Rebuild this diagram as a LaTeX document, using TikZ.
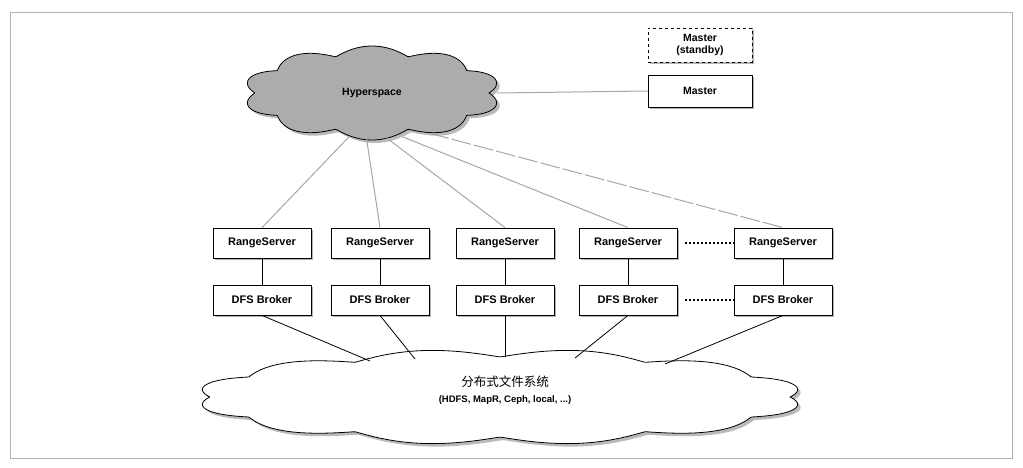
\documentclass[tikz,border=0pt]{standalone}
\usepackage{fontspec}
\setmainfont{Liberation Sans}
\newfontfamily\cjk{Noto Sans CJK SC}
\usetikzlibrary{shapes.geometric,shadows}
\begin{document}
\begin{tikzpicture}[x=1pt,y=-1pt,
  box/.style={draw,thick,fill=white,minimum width=98pt,minimum height=30pt,font=\bfseries\fontsize{11}{12}\selectfont,drop shadow={opacity=0.6,shadow xshift=2pt,shadow yshift=-2pt}},
  link/.style={gray!70,line width=1pt},
  blink/.style={black,line width=0.8pt},
  anchorell/.style={ellipse,inner sep=0pt}]
\useasboundingbox (0,0) rectangle (1023,467);
\draw[gray!60,line width=1pt] (10,12) rectangle (1012,458);
% Hyperspace cloud
\fill[black!45,opacity=0.6] plot[domain=0:360,samples=400,smooth] ({375+(117+12*abs(sin(5*\x)))*cos(\x)},{96+(38+9*abs(sin(5*\x)))*sin(\x)}) -- cycle;
\draw[thick,fill=gray!65] plot[domain=0:360,samples=400,smooth] ({372+(117+12*abs(sin(5*\x)))*cos(\x)},{93+(38+9*abs(sin(5*\x)))*sin(\x)}) -- cycle;
\node[anchorell,minimum width=250pt,minimum height=90pt] (hs) at (372,93) {};
\node[font=\bfseries\fontsize{10.5}{12}\selectfont] (hst) at (372,93) {Hyperspace};
\node[box,dashed,minimum width=104pt,minimum height=34pt,font=\bfseries\fontsize{10.5}{11.5}\selectfont,align=center] (ms) at (700,45) {Master\\(standby)};
\node[box,minimum width=104pt,minimum height=32pt,font=\bfseries\fontsize{10.5}{11.5}\selectfont] (m) at (700,91) {Master};
\draw[link] (hs.east) -- (m.west);
\foreach \i/\x in {1/262,2/380,3/505,4/628,5/783}{
  \node[box] (rs\i) at (\x,243) {RangeServer};
  \node[box] (db\i) at (\x,300) {DFS Broker};
  \draw[blink] (rs\i) -- (db\i);
}
% file system cloud
\fill[black!45,opacity=0.6] plot[domain=0:360,samples=500,smooth] ({503+(290+14*abs(sin(6*\x)))*cos(\x)},{400+(40+8*abs(sin(6*\x)))*sin(\x)}) -- cycle;
\draw[thick,fill=white] plot[domain=0:360,samples=500,smooth] ({500+(290+14*abs(sin(6*\x)))*cos(\x)},{397+(40+8*abs(sin(6*\x)))*sin(\x)}) -- cycle;
\node[anchorell,minimum width=590pt,minimum height=92pt] (fs) at (500,397) {};
\coordinate (f1) at (370,361);
\coordinate (f2) at (415,359);
\coordinate (f3) at (505,357);
\coordinate (f4) at (575,358);
\coordinate (f5) at (665,364);
\node[align=center] (fst) at (505,390) {{\cjk\fontsize{12.5}{14}\selectfont 分布式文件系统}\\[4pt]{\bfseries\fontsize{9.5}{11}\selectfont (HDFS, MapR, Ceph, local, ...)}};
\draw[black,line width=2pt,dotted] (rs4.east) ++(8,0) coordinate (d1) -- (d1 -| rs5.west) ++(-6,0);
\draw[black,line width=2pt,dotted] (db4.east) ++(8,0) coordinate (d2) -- (d2 -| db5.west) ++(-6,0);
\draw[link] (hs.-118) -- (rs1.north);
\draw[link] (hs.-97) -- (rs2.north);
\draw[link] (hs.-72) -- (rs3.north);
\draw[link] (hs.-55) -- (rs4.north);
\draw[link,dash pattern=on 20pt off 3pt] (hs.-35) -- (rs5.north);
\foreach \i in {1,...,5}{\draw[blink] (db\i.south) -- (f\i);}
\end{tikzpicture}
\end{document}
